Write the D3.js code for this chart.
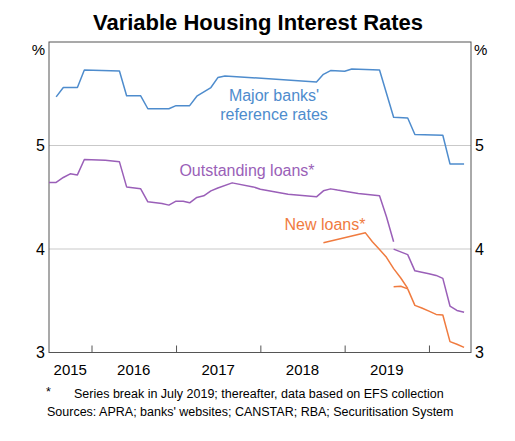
<!DOCTYPE html>
<html>
<head>
<meta charset="utf-8">
<script src="https://cdn.jsdelivr.net/npm/d3@7"></script>
<style>
  body { margin: 0; background: #fff; }
  svg text { font-family: Arial, "Liberation Sans", sans-serif; }
</style>
</head>
<body>
<svg id="chart" width="515" height="441"></svg>
<script>
var majorBanks = [
  ["2015-07", 5.47], ["2015-08", 5.56], ["2015-10", 5.56], ["2015-11", 5.73],
  ["2016-04", 5.72], ["2016-05", 5.48], ["2016-07", 5.48], ["2016-08", 5.355],
  ["2016-11", 5.355], ["2016-12", 5.385], ["2017-02", 5.385], ["2017-03", 5.476],
  ["2017-05", 5.56], ["2017-06", 5.656], ["2017-07", 5.672], ["2018-08", 5.614],
  ["2018-09", 5.688], ["2018-10", 5.724], ["2018-12", 5.717], ["2019-01", 5.739],
  ["2019-05", 5.73], ["2019-07", 5.273], ["2019-09", 5.266], ["2019-10", 5.106],
  ["2020-02", 5.099], ["2020-03", 4.822], ["2020-05", 4.822]
];
var outstandingOld = [
  ["2015-06", 4.643], ["2015-07", 4.643], ["2015-08", 4.691], ["2015-09", 4.726],
  ["2015-10", 4.716], ["2015-11", 4.865], ["2016-02", 4.858], ["2016-04", 4.842],
  ["2016-05", 4.600], ["2016-07", 4.581], ["2016-08", 4.456], ["2016-10", 4.440],
  ["2016-11", 4.424], ["2016-12", 4.462], ["2017-01", 4.462], ["2017-02", 4.446],
  ["2017-03", 4.498], ["2017-04", 4.514], ["2017-05", 4.562], ["2017-06", 4.59],
  ["2017-08", 4.639], ["2017-11", 4.600], ["2017-12", 4.578], ["2018-04", 4.530],
  ["2018-08", 4.504], ["2018-09", 4.562], ["2018-10", 4.581], ["2018-11", 4.569],
  ["2018-12", 4.559], ["2019-02", 4.537], ["2019-05", 4.514], ["2019-06", 4.311],
  ["2019-07", 4.070]
];
var outstandingNew = [
  ["2019-07", 3.999], ["2019-09", 3.946], ["2019-10", 3.789], ["2019-11", 3.775],
  ["2019-12", 3.76], ["2020-01", 3.745], ["2020-02", 3.716], ["2020-03", 3.449],
  ["2020-04", 3.406], ["2020-05", 3.389]
];
var newLoansOld = [
  ["2018-09", 4.060], ["2019-03", 4.156], ["2019-04", 4.07], ["2019-05", 3.995],
  ["2019-06", 3.92], ["2019-07", 3.81], ["2019-08", 3.72], ["2019-09", 3.62]
];
var newLoansNew = [
  ["2019-07", 3.636], ["2019-08", 3.64], ["2019-09", 3.615], ["2019-10", 3.455],
  ["2019-11", 3.43], ["2019-12", 3.40], ["2020-01", 3.368], ["2020-02", 3.362],
  ["2020-03", 3.105], ["2020-04", 3.08], ["2020-05", 3.05]
];
var yearLabels = [2015, 2016, 2017, 2018, 2019];
var yTicks = [3, 4, 5];
var gridValues = [4, 5];

var colors = { blue: "#4e8ccd", purple: "#9a5fb8", orange: "#f07b3f" };

var svg = d3.select("#chart");
var plotLeft = 49, plotRight = 471, plotTop = 42, plotBottom = 352.5;

var parseMonth = d3.timeParse("%Y-%m");
// values are month-end, so plot at start of following month
var monthEnd = s => d3.timeMonth.offset(parseMonth(s), 1);

var x = d3.scaleTime()
  .domain([new Date(2015, 6, 1), new Date(2020, 6, 1)])
  .range([plotLeft, plotRight]);
var y = d3.scaleLinear().domain([3, 6]).range([plotBottom, plotTop]);

// grid
svg.selectAll("line.grid")
  .data(gridValues)
  .join("line")
  .attr("class", "grid")
  .attr("x1", plotLeft).attr("x2", plotRight)
  .attr("y1", d => y(d)).attr("y2", d => y(d))
  .attr("stroke", "#c9c9c9").attr("stroke-width", 1);

// bottom axis ticks at year boundaries, pointing inward
var xAxis = d3.axisBottom(x)
  .ticks(d3.timeYear.every(1))
  .tickSize(-7)
  .tickFormat("");
var gx = svg.append("g").attr("transform", `translate(0,${plotBottom})`).call(xAxis);
gx.select(".domain").remove();
gx.selectAll(".tick line").attr("stroke", "#555");

// year labels centred in the visible part of each year
svg.selectAll("text.year")
  .data(yearLabels)
  .join("text")
  .attr("class", "year")
  .attr("x", d => {
    var a = Math.max(x(new Date(d, 0, 1)), plotLeft);
    var b = Math.min(x(new Date(d + 1, 0, 1)), plotRight);
    return (a + b) / 2;
  })
  .attr("y", plotBottom + 22)
  .attr("text-anchor", "middle")
  .attr("font-size", 15)
  .text(d => d);

// y labels both sides
var yLeft = d3.axisLeft(y).tickValues(yTicks).tickSize(0).tickPadding(4).tickFormat(d3.format("d"));
var yRight = d3.axisRight(y).tickValues(yTicks).tickSize(0).tickPadding(4).tickFormat(d3.format("d"));
var gl = svg.append("g").attr("transform", `translate(${plotLeft},0)`).call(yLeft);
var gr = svg.append("g").attr("transform", `translate(${plotRight},0)`).call(yRight);
[gl, gr].forEach(g => {
  g.select(".domain").remove();
  g.selectAll("text").attr("font-size", 16).attr("fill", "#000")
    .style("font-family", "Arial, 'Liberation Sans', sans-serif");
});
svg.append("text").attr("x", plotLeft - 4).attr("y", plotTop + 13).attr("text-anchor", "end")
  .attr("font-size", 15).text("%");
svg.append("text").attr("x", plotRight + 3).attr("y", plotTop + 13)
  .attr("font-size", 15).text("%");

// frame
svg.append("rect")
  .attr("x", plotLeft).attr("y", plotTop)
  .attr("width", plotRight - plotLeft).attr("height", plotBottom - plotTop)
  .attr("fill", "none").attr("stroke", "#555").attr("stroke-width", 1);

var line = d3.line()
  .x(d => x(monthEnd(d[0])))
  .y(d => y(d[1]));

var series = [
  [majorBanks, colors.blue],
  [outstandingOld, colors.purple],
  [outstandingNew, colors.purple],
  [newLoansOld, colors.orange],
  [newLoansNew, colors.orange]
];
svg.selectAll("path.series")
  .data(series)
  .join("path")
  .attr("class", "series")
  .attr("fill", "none")
  .attr("stroke", d => d[1])
  .attr("stroke-width", 1.5)
  .attr("stroke-linejoin", "round")
  .attr("d", d => line(d[0]));

// series labels
function label(lines, cx, cy, color) {
  var t = svg.append("text")
    .attr("x", cx).attr("y", cy)
    .attr("text-anchor", "middle")
    .attr("font-size", 16)
    .attr("fill", color);
  lines.forEach((s, i) => {
    t.append("tspan").attr("x", cx).attr("dy", i ? 19 : 0).text(s);
  });
}
label(["Major banks'", "reference rates"], 274, 101, colors.blue);
label(["Outstanding loans*"], 247, 176, colors.purple);
label(["New loans*"], 325, 230, colors.orange);

// title
svg.append("text")
  .attr("x", 258).attr("y", 30)
  .attr("text-anchor", "middle")
  .attr("font-size", 22)
  .attr("font-weight", "bold")
  .text("Variable Housing Interest Rates");

// notes
var notes = svg.append("g").attr("font-size", 12.5).attr("fill", "#000");
notes.append("text").attr("x", 46).attr("y", 396).text("*");
notes.append("text").attr("x", 74).attr("y", 398)
  .text("Series break in July 2019; thereafter, data based on EFS collection");
notes.append("text").attr("x", 47).attr("y", 416)
  .text("Sources: APRA; banks' websites; CANSTAR; RBA; Securitisation System");
</script>
</body>
</html>
